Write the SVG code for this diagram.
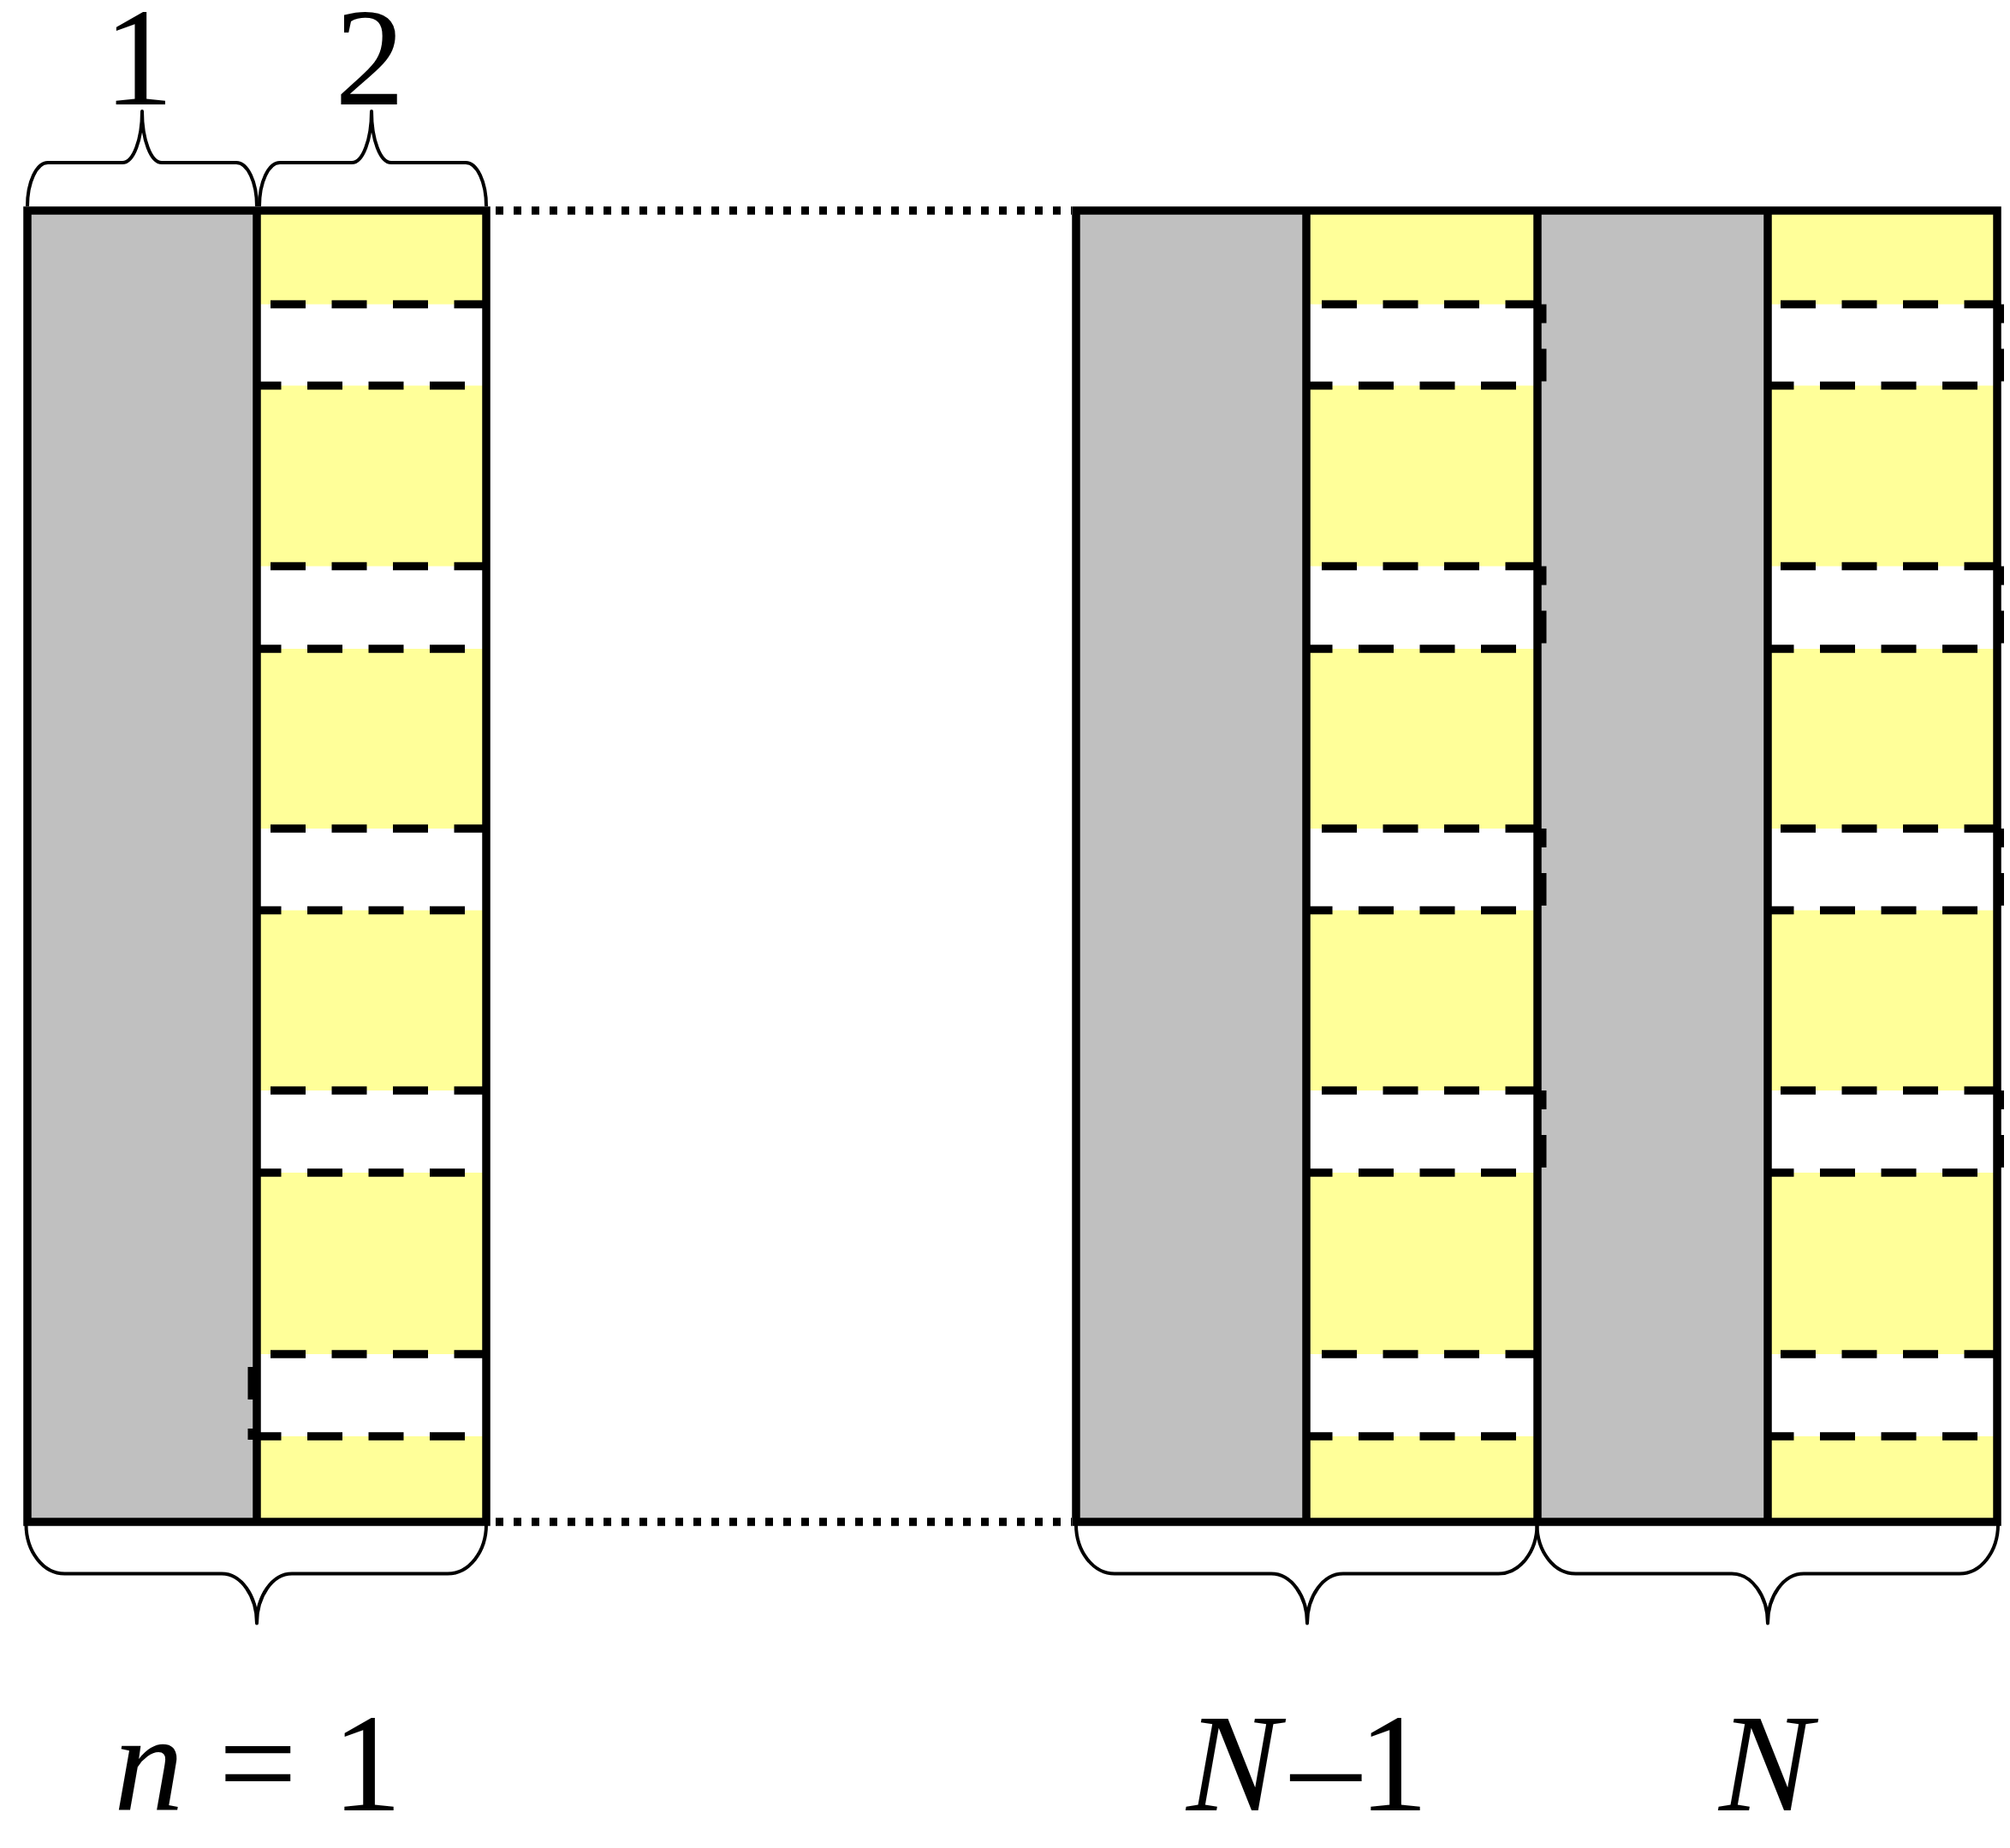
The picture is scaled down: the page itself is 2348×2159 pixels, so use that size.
<svg xmlns="http://www.w3.org/2000/svg" width="2348" height="2159" viewBox="0 0 2348 2159">
  <style>
    .grey { fill: #C0C0C0; }
    .yellow { fill: #FFFF99; }
    .white { fill: #FFFFFF; }
    .border { fill: none; stroke: #000; stroke-width: 9.5; }
    .dash { fill: none; stroke: #000; stroke-width: 9.5; stroke-dasharray: 41 30.5; }
    .bit { fill: none; stroke: #000; stroke-width: 9; stroke-dasharray: 22 30 38 200; }
    .dots { fill: none; stroke: #000; stroke-width: 9.5; stroke-dasharray: 9 12; }
    .brace { fill: none; stroke: #000; stroke-width: 4; stroke-linejoin: round; }
    .lbl { font-family: "Liberation Serif", "Times New Roman", Tinos, "Nimbus Roman", "Nimbus Roman No9 L", FreeSerif, Times, serif; font-size: 163px; fill: #000; }
  </style>
  <rect width="2348" height="2159" fill="#FFFFFF"/>

  <!-- Cell n = 1 -->
  <g id="cell-1">
    <g id="cell-1-layer-1">
      <rect class="grey" x="32" y="246" width="268" height="1532"/>
    </g>
    <g id="cell-1-layer-2">
      <rect class="yellow" x="300" y="246" width="268" height="1532"/>
      <rect class="white" x="300" y="355.5" width="268" height="95"/>
      <rect class="white" x="300" y="661.5" width="268" height="96.5"/>
      <rect class="white" x="300" y="968" width="268" height="95.5"/>
      <rect class="white" x="300" y="1274" width="268" height="96"/>
      <rect class="white" x="300" y="1582" width="268" height="96"/>
      <path class="dash" d="M316,355.5 H568 M316,661.5 H568 M316,968 H568 M316,1274 H568 M316,1582 H568"/>
      <path class="dash" d="M543,450.5 H300 M543,758 H300 M543,1063.5 H300 M543,1370 H300 M543,1678 H300"/>
      <path fill="none" stroke="#000" stroke-width="9" d="M294,1597 V1635 M294,1669 V1682"/>
    </g>
    <rect class="border" x="32" y="246" width="536" height="1532"/>
    <line class="border" x1="300" y1="246" x2="300" y2="1778"/>
  </g>

  <!-- Cell N-1 -->
  <g id="cell-N-1">
    <g id="cell-N-1-layer-1">
      <rect class="grey" x="1257" y="246" width="269" height="1532"/>
    </g>
    <g id="cell-N-1-layer-2">
      <rect class="yellow" x="1526" y="246" width="270" height="1532"/>
      <rect class="white" x="1526" y="355.5" width="270" height="95"/>
      <rect class="white" x="1526" y="661.5" width="270" height="96.5"/>
      <rect class="white" x="1526" y="968" width="270" height="95.5"/>
      <rect class="white" x="1526" y="1274" width="270" height="96"/>
      <rect class="white" x="1526" y="1582" width="270" height="96"/>
      <path class="dash" d="M1544,355.5 H1802 M1544,661.5 H1802 M1544,968 H1802 M1544,1274 H1802 M1544,1582 H1796"/>
      <path class="dash" d="M1771,450.5 H1526 M1771,758 H1526 M1771,1063.5 H1526 M1771,1370 H1526 M1771,1678 H1526"/>
    </g>
  </g>

  <!-- Cell N -->
  <g id="cell-N">
    <g id="cell-N-layer-1">
      <rect class="grey" x="1796" y="246" width="269" height="1532"/>
    </g>
    <g id="cell-N-layer-2">
      <rect class="yellow" x="2065" y="246" width="268" height="1532"/>
      <rect class="white" x="2065" y="355.5" width="268" height="95"/>
      <rect class="white" x="2065" y="661.5" width="268" height="96.5"/>
      <rect class="white" x="2065" y="968" width="268" height="95.5"/>
      <rect class="white" x="2065" y="1274" width="268" height="96"/>
      <rect class="white" x="2065" y="1582" width="268" height="96"/>
      <path class="dash" d="M2080,355.5 H2336 M2080,661.5 H2336 M2080,968 H2336 M2080,1274 H2336 M2080,1582 H2333"/>
      <path class="dash" d="M2310,450.5 H2065 M2310,758 H2065 M2310,1063.5 H2065 M2310,1370 H2065 M2310,1678 H2065"/>
    </g>
  </g>

  <g id="right-borders">
    <rect class="border" x="1257" y="246" width="1076" height="1532"/>
    <line class="border" x1="1526" y1="246" x2="1526" y2="1778"/>
    <line class="border" x1="1796" y1="246" x2="1796" y2="1778"/>
    <line class="border" x1="2065" y1="246" x2="2065" y2="1778"/>
    <path class="bit" d="M1802,355.5 V450.5 M1802,661.5 V758 M1802,968 V1063.5 M1802,1274 V1370"/>
    <path class="bit" d="M2336.5,355.5 V450.5 M2336.5,661.5 V758 M2336.5,968 V1063.5 M2336.5,1274 V1370"/>
  </g>

  <!-- Connectors: dotted continuation lines -->
  <g id="connectors">
    <line class="dots" x1="579" y1="246" x2="1252" y2="246"/>
    <line class="dots" x1="579" y1="1778" x2="1252" y2="1778"/>
  </g>

  <!-- Braces -->
  <g id="braces">
    <path class="brace" d="M32,241 C32,212.8 42.7,190 56,190 H143 C155.7,190 166,163.1 166,130 C166,163.1 176.3,190 189,190 H276 C289.3,190 300,212.8 300,241"/>
    <path class="brace" d="M303,241 C303,212.8 313.7,190 327,190 H411 C423.7,190 434,163.1 434,130 C434,163.1 444.3,190 457,190 H544 C557.3,190 568,212.8 568,241"/>
    <path class="brace" d="M30.5,1781 C30.5,1812.8 50.7,1838.5 75.5,1838.5 H259 C281.6,1838.5 300,1864.5 300,1896.5 C300,1864.5 318.4,1838.5 341,1838.5 H523 C547.9,1838.5 568,1812.8 568,1781"/>
    <path class="brace" d="M1257,1781 C1257,1812.8 1277.2,1838.5 1302,1838.5 H1485 C1508.2,1838.5 1527,1864.5 1527,1896.5 C1527,1864.5 1545.8,1838.5 1569,1838.5 H1750.5 C1775.3,1838.5 1795.5,1812.8 1795.5,1781"/>
    <path class="brace" d="M1795.5,1781 C1795.5,1812.8 1815.7,1838.5 1840.5,1838.5 H2023 C2046.2,1838.5 2065,1864.5 2065,1896.5 C2065,1864.5 2083.8,1838.5 2107,1838.5 H2289 C2313.9,1838.5 2334,1812.8 2334,1781"/>
  </g>

  <!-- Labels -->
  <g id="labels">
    <text class="lbl" x="162" y="122" text-anchor="middle">1</text>
    <text class="lbl" x="432" y="122" text-anchor="middle">2</text>
    <text class="lbl" x="133" y="2115"><tspan font-style="italic">n</tspan> = 1</text>
    <text class="lbl" y="2115"><tspan font-style="italic" x="1386">N</tspan><tspan x="1508">–</tspan><tspan x="1587">1</tspan></text>
    <text class="lbl" x="2008" y="2115" font-style="italic">N</text>
  </g>
</svg>
